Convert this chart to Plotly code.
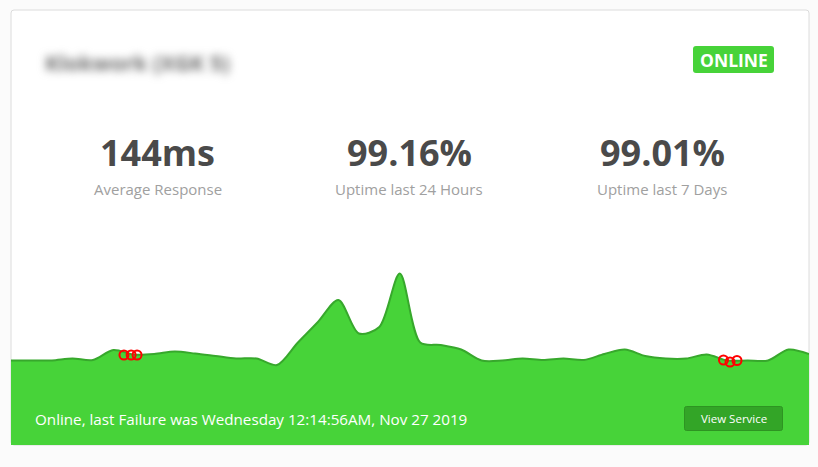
import plotly.graph_objects as go

# Data (response time in ms, one sample per slot)
samples = list(range(40))
response_ms = [169, 169, 169, 173, 170, 190, 181, 182, 187, 183,
               178, 173, 173, 160, 204, 246, 290, 223, 236, 343,
               205, 200, 191, 169, 169, 173, 170, 173, 170, 182,
               191, 178, 173, 173, 181, 169, 169, 169, 191, 182]
failure_x = [5.52, 5.87, 6.16, 34.82, 35.14, 35.48]
failure_y = [180, 180, 180, 170, 166, 169]

stat_values = ['144ms', '99.16%', '99.01%']
stat_labels = ['Average Response', 'Uptime last 24 Hours', 'Uptime last 7 Days']
stat_centers = [157.5, 409.5, 662]

W, H = 818, 467
FONT = 'Open Sans'
GREEN = '#47d339'


def px(x):
    return x / W


def py(y):
    return 1 - y / H


def rounded(x0, y0, x1, y1, r):
    # rounded rectangle path in paper coordinates
    return (f'M {px(x0 + r)} {py(y0)} L {px(x1 - r)} {py(y0)} '
            f'Q {px(x1)} {py(y0)} {px(x1)} {py(y0 + r)} L {px(x1)} {py(y1 - r)} '
            f'Q {px(x1)} {py(y1)} {px(x1 - r)} {py(y1)} L {px(x0 + r)} {py(y1)} '
            f'Q {px(x0)} {py(y1)} {px(x0)} {py(y1 - r)} L {px(x0)} {py(y0 + r)} '
            f'Q {px(x0)} {py(y0)} {px(x0 + r)} {py(y0)} Z')


def label(x, y, text, size, color, bold=False, anchor='center'):
    return dict(xref='paper', yref='paper', x=px(x), y=py(y), text=f'<b>{text}</b>' if bold else text,
                showarrow=False, xanchor=anchor, yanchor='middle',
                font=dict(family=FONT, size=size, color=color))


fig = go.Figure()

fig.add_trace(go.Scatter(
    x=samples,
    y=response_ms,
    mode='lines',
    fill='tozeroy',
    fillcolor=GREEN,
    line=dict(color='#37a82c', width=2, shape='spline', smoothing=0.85),
    hoverinfo='skip'
))

fig.add_trace(go.Scatter(
    x=failure_x,
    y=failure_y,
    mode='markers',
    marker=dict(size=9, color='rgba(0,0,0,0)', line=dict(color='#ff0000', width=2)),
    hoverinfo='skip',
    cliponaxis=False
))

shapes = [
    dict(type='path', xref='paper', yref='paper', path=rounded(11, 10, 809, 445, 3),
         fillcolor='white', line=dict(color='#dcdcdc', width=1), layer='below'),
    dict(type='path', xref='paper', yref='paper', path=rounded(693, 46, 774, 73, 3),
         fillcolor=GREEN, line=dict(width=0), layer='below'),
    dict(type='path', xref='paper', yref='paper', path=rounded(684.5, 406.5, 782.5, 430.5, 2),
         fillcolor='#33a527', line=dict(color='#2e9422', width=1), layer='above'),
]

annotations = [
    label(43, 62, 'Klokwork (XGK 5)', 21.5, '#6e6e6e', bold=True, anchor='left'),
    label(733.5, 60, 'ONLINE', 17.5, 'white', bold=True),
    label(32.5, 418.5, 'Online, last Failure was Wednesday 12:14:56AM, Nov 27 2019', 15.2, 'white', anchor='left'),
    label(733.5, 418.5, 'View Service', 11.5, 'white'),
]
for cx, value, text in zip(stat_centers, stat_values, stat_labels):
    annotations.append(label(cx, 152, value, 36, '#4a4a4a', bold=True))
    annotations.append(label(cx, 189, text, 15, '#a0a0a0'))

fig.update_layout(
    width=W,
    height=H,
    margin=dict(l=0, r=0, t=0, b=0),
    paper_bgcolor='#fbfbfb',
    plot_bgcolor='rgba(0,0,0,0)',
    showlegend=False,
    shapes=shapes,
    annotations=annotations,
    xaxis=dict(domain=[px(11), px(809)], range=[0, 39], visible=False, fixedrange=True),
    yaxis=dict(domain=[py(445), py(245)], range=[0, 400], visible=False, fixedrange=True),
)

# page margin off, and the service name is blurred in the original
post = """
document.body.style.margin = '0';
document.body.style.overflow = 'hidden';
document.querySelectorAll('.annotation').forEach(function (a) {
    if (a.textContent.indexOf('Klokwork') >= 0) { a.style.filter = 'blur(4.5px)'; }
});
"""

fig.write_html('out.html', config={'displayModeBar': False}, post_script=post)
